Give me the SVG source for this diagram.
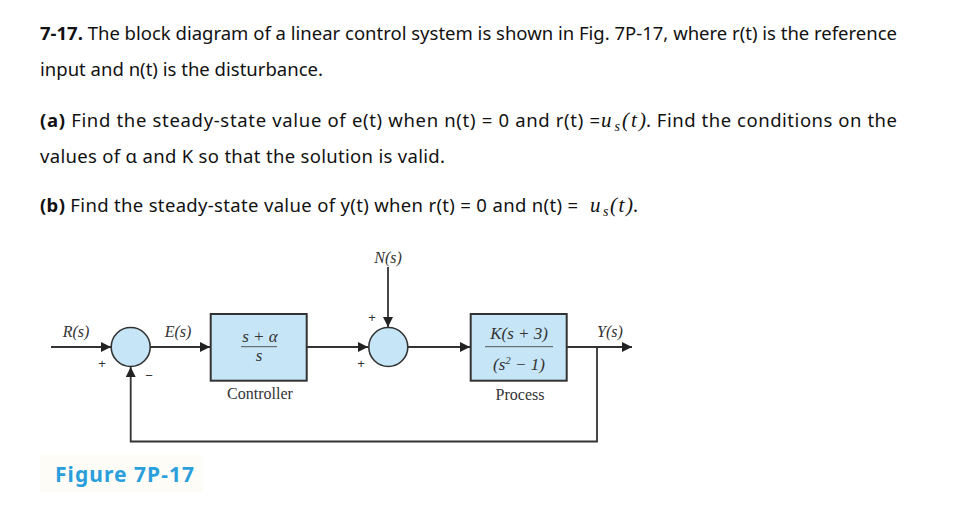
<svg xmlns="http://www.w3.org/2000/svg" width="955" height="511" viewBox="0 0 955 511">
<defs>
<marker id="arr" viewBox="0 0 10 10" refX="10" refY="5" markerWidth="10" markerHeight="10" markerUnits="userSpaceOnUse" orient="auto">
<path d="M0,0 L10,5 L0,10 Z" fill="#222"/>
</marker>
<style>
.t{font-family:"Noto Sans","Open Sans","Liberation Sans",sans-serif;font-size:18.5px;fill:#111}
.b{font-weight:bold}
.m{font-family:"Liberation Serif",serif;font-style:italic;font-size:21px;fill:#111}
.sub{font-size:14px}
.lbl{font-family:"Liberation Serif",serif;font-style:italic;font-size:16px;fill:#333}
.fr{font-family:"Liberation Serif",serif;font-style:italic;font-size:17px;fill:#333}
.cap{font-family:"Liberation Serif",serif;font-size:16px;fill:#333}
.sg{font-family:"Liberation Sans",sans-serif;font-size:13px;fill:#333}
.ln{stroke:#333;stroke-width:1.8;fill:none}
.blk{fill:#c6e6f8;stroke:#333;stroke-width:2}
.sum{fill:#c6e6f8;stroke:#333;stroke-width:1.6}
</style>
</defs>
<rect width="955" height="511" fill="#fff"/>
<g id="text">
<text class="t" x="40" y="40" textLength="857" lengthAdjust="spacing"><tspan class="b">7-17.</tspan> The block diagram of a linear control system is shown in Fig. 7P-17, where r(t) is the reference</text>
<text class="t" x="40" y="76" textLength="283" lengthAdjust="spacing">input and n(t) is the disturbance.</text>
<text class="t" x="40" y="127" textLength="560" lengthAdjust="spacing"><tspan class="b">(a)</tspan> Find the steady-state value of e(t) when n(t) = 0 and r(t) =</text>
<text class="m" x="601" y="127" textLength="45" lengthAdjust="spacing">u<tspan class="sub" dx="1" dy="4">s</tspan><tspan dy="-4">(t)</tspan></text>
<text class="t" x="646" y="127" textLength="251" lengthAdjust="spacing">. Find the conditions on the</text>
<text class="t" x="40" y="163" textLength="405" lengthAdjust="spacing">values of α and K so that the solution is valid.</text>
<text class="t" x="40" y="212" textLength="538" lengthAdjust="spacing"><tspan class="b">(b)</tspan> Find the steady-state value of y(t) when r(t) = 0 and n(t) =</text>
<text class="m" x="590" y="212" textLength="43" lengthAdjust="spacing">u<tspan class="sub" dx="1" dy="4">s</tspan><tspan dy="-4">(t)</tspan></text>
<text class="t" x="633" y="212">.</text>
</g>
<g id="connectors">
<line class="ln" x1="51" y1="347" x2="111" y2="347" marker-end="url(#arr)"/>
<line class="ln" x1="150" y1="347" x2="210" y2="347" marker-end="url(#arr)"/>
<line class="ln" x1="307" y1="347" x2="368" y2="347" marker-end="url(#arr)"/>
<line class="ln" x1="388" y1="267" x2="388" y2="327" marker-end="url(#arr)"/>
<line class="ln" x1="408" y1="347" x2="470" y2="347" marker-end="url(#arr)"/>
<line class="ln" x1="567" y1="347" x2="632" y2="347" marker-end="url(#arr)"/>
<polyline class="ln" points="597,347 597,441.5 130.7,441.5 130.7,367" marker-end="url(#arr)"/>
</g>
<g id="sum1">
<circle class="sum" cx="130.7" cy="347" r="19.5"/>
<text class="sg" x="102" y="368" text-anchor="middle">+</text>
<text class="sg" x="149" y="380" text-anchor="middle">−</text>
</g>
<g id="sum2">
<circle class="sum" cx="388.3" cy="347" r="19.5"/>
<text class="sg" x="372" y="322" text-anchor="middle">+</text>
<text class="sg" x="361" y="368" text-anchor="middle">+</text>
</g>
<g id="controller">
<rect class="blk" x="210.7" y="314" width="96" height="66.7"/>
<text class="fr" x="260" y="342" text-anchor="middle">s + α</text>
<line x1="241" y1="346.7" x2="277" y2="346.7" stroke="#555" stroke-width="1"/>
<text class="fr" x="259" y="361" text-anchor="middle">s</text>
<text class="cap" x="260" y="399" text-anchor="middle">Controller</text>
</g>
<g id="process">
<rect class="blk" x="470.7" y="314" width="96" height="66.7"/>
<text class="fr" x="519" y="339" text-anchor="middle">K(s + 3)</text>
<line x1="485" y1="346.7" x2="553" y2="346.7" stroke="#555" stroke-width="1"/>
<text class="fr" x="519" y="370" text-anchor="middle">(s<tspan font-size="11" dy="-6">2</tspan><tspan dy="6"> − 1)</tspan></text>
<text class="cap" x="520" y="400" text-anchor="middle">Process</text>
</g>
<g id="labels">
<text class="lbl" x="76" y="337" text-anchor="middle">R(s)</text>
<text class="lbl" x="178" y="337" text-anchor="middle">E(s)</text>
<text class="lbl" x="388" y="263" text-anchor="middle">N(s)</text>
<text class="lbl" x="610" y="337" text-anchor="middle">Y(s)</text>
</g>
<g id="caption">
<rect x="40" y="455" width="163" height="37" fill="#fdfcf7"/>
<text x="55" y="482" textLength="139" lengthAdjust="spacing" style="font-family:'Noto Sans','Open Sans',sans-serif;font-weight:bold;font-size:21px;fill:#2a9fdc">Figure 7P-17</text>
</g>
</svg>
